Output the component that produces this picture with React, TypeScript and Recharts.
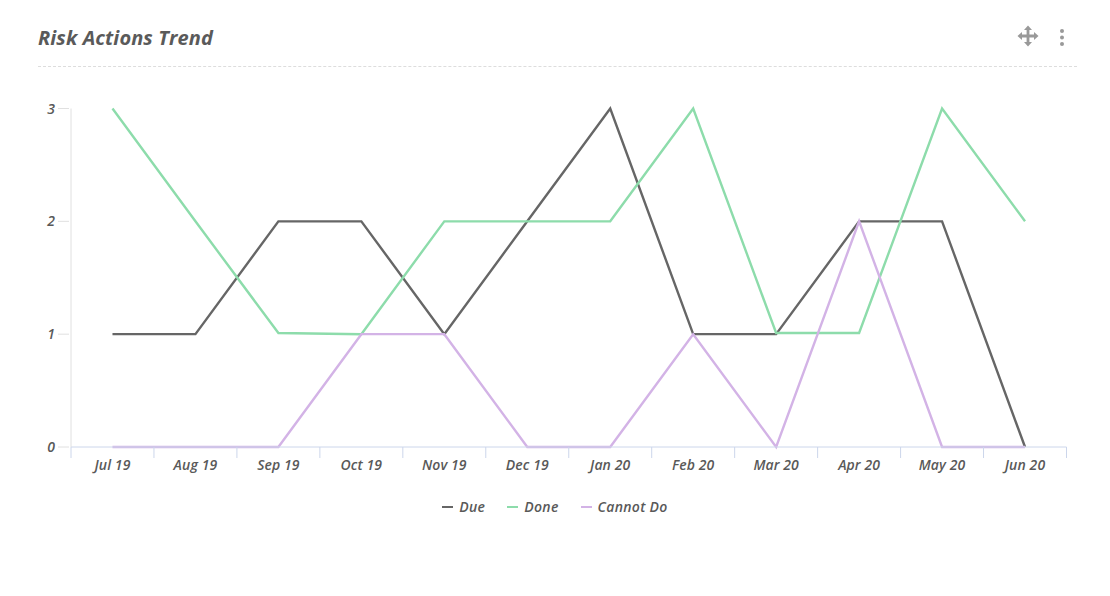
import { LineChart, Line, XAxis, YAxis, Legend } from 'recharts';

const months = ['Jul 19', 'Aug 19', 'Sep 19', 'Oct 19', 'Nov 19', 'Dec 19', 'Jan 20', 'Feb 20', 'Mar 20', 'Apr 20', 'May 20', 'Jun 20'];
const due = [1, 1, 2, 2, 1, 2, 3, 1, 1, 2, 2, 0];
const done = [3, 2, 1.01, 1, 2, 2, 2, 3, 1.01, 1.01, 3, 2];
const cannotDo = [0, 0, 0, 1, 1, 0, 0, 1, 0, 2, 0, 0];
const yTicks = [0, 1, 2, 3];

const chartData = months.map((month, i) => ({
  month,
  Due: due[i],
  Done: done[i],
  'Cannot Do': cannotDo[i],
}));

const FONT = '"Open Sans", sans-serif';
const TEXT = '#595959';
const LABEL_WEIGHT = 560;
const PLOT_LEFT = 71;
const PLOT_RIGHT = 1066.5;
const BAND = (PLOT_RIGHT - PLOT_LEFT) / months.length;
const LEGEND_HEIGHT = 19;
// recharts hands the tick its position after tickSize + tickMargin
const X_TICK_SHIFT = 8;

const XTick = ({ x, y, payload, index }: any) => {
  const top = y - X_TICK_SHIFT;
  return (
    <g>
      <line x1={x - BAND / 2} x2={x - BAND / 2} y1={top} y2={top + 11} stroke="#ccd6eb" />
      {index === months.length - 1 && (
        <line x1={x + BAND / 2} x2={x + BAND / 2} y1={top} y2={top + 11} stroke="#ccd6eb" />
      )}
      <text x={x} y={top + 23} textAnchor="middle" fontFamily={FONT} fontSize={14} letterSpacing={0.1} fontStyle="italic" fontWeight={LABEL_WEIGHT} fill={TEXT}>
        {payload.value}
      </text>
    </g>
  );
};

const YTick = ({ x, y, payload }: any) => {
  return (
    <g>
      <line x1={x} x2={x + 11} y1={y} y2={y} stroke="#e0e0e0" />
      <text x={x - 3} y={y + 5} textAnchor="end" fontFamily={FONT} fontSize={14} fontStyle="italic" fontWeight={LABEL_WEIGHT} fill={TEXT}>
        {payload.value}
      </text>
    </g>
  );
};

const CustomLegend = ({ payload }: any) => {
  return (
    <div style={{ display: 'flex', justifyContent: 'center', gap: 22, fontFamily: FONT, fontSize: 14, letterSpacing: 0.3, fontStyle: 'italic', fontWeight: LABEL_WEIGHT, color: TEXT }}>
      {payload?.map((entry: any, index: number) => (
        <div key={index} style={{ display: 'flex', alignItems: 'center', gap: 6 }}>
          <div style={{ width: 11, height: 2, backgroundColor: entry.color }} />
          <span>{entry.value}</span>
        </div>
      ))}
    </div>
  );
};

export default function App() {
  return (
    <div style={{ position: 'absolute', left: 0, top: 0, width: 1110, height: 596, background: '#fff', overflow: 'hidden' }}>
      <div style={{ position: 'absolute', left: 38, top: 24, fontFamily: FONT, fontSize: 20, letterSpacing: 0.1, fontStyle: 'italic', fontWeight: 700, color: '#5a5a5a', lineHeight: '27px' }}>
        Risk Actions Trend
      </div>
      <svg style={{ position: 'absolute', left: 1016, top: 24 }} width={56} height={24} viewBox="0 0 56 24">
        <g fill="#999">
          <path d="M12 1.5 l4 4.5 h-2.6 v4.6 h4.6 V8 l4.5 4 -4.5 4 v-2.6 h-4.6 V18 H16 l-4 4.5 -4 -4.5 h2.6 v-4.6 H6 V16 l-4.5 -4 L6 8 v2.6 h4.6 V6 H8 z" />
          <circle cx={46} cy={7} r={2} />
          <circle cx={46} cy={13.5} r={2} />
          <circle cx={46} cy={20} r={2} />
        </g>
      </svg>
      <div style={{ position: 'absolute', left: 38, top: 66, width: 1039, borderTop: '1px dashed #dddddd' }} />
      <LineChart
        width={1110}
        height={596}
        data={chartData}
        margin={{ top: 108.5 - LEGEND_HEIGHT, right: 1110 - PLOT_RIGHT, bottom: 109, left: 0 }}
      >
        <XAxis
          dataKey="month"
          interval={0}
          padding={{ left: BAND / 2, right: BAND / 2 }}
          tick={<XTick />}
          tickLine={false}
          axisLine={{ stroke: '#ccd6eb' }}
          height={40}
        />
        <YAxis
          width={PLOT_LEFT}
          domain={[0, 3]}
          ticks={yTicks}
          tick={<YTick />}
          tickLine={false}
          tickSize={11}
          axisLine={{ stroke: '#e0e0e0' }}
        />
        <Legend
          content={<CustomLegend />}
          itemSorter={null}
          verticalAlign="top"
          wrapperStyle={{ position: 'absolute', left: 0, top: 497, width: 1110 }}
        />
        <Line type="linear" dataKey="Due" stroke="#666666" strokeWidth={2.4} dot={false} isAnimationActive={false} />
        <Line type="linear" dataKey="Done" stroke="#8ddcab" strokeWidth={2.4} dot={false} isAnimationActive={false} />
        <Line type="linear" dataKey="Cannot Do" stroke="#d3b3e6" strokeWidth={2.4} dot={false} isAnimationActive={false} />
      </LineChart>
    </div>
  );
}
